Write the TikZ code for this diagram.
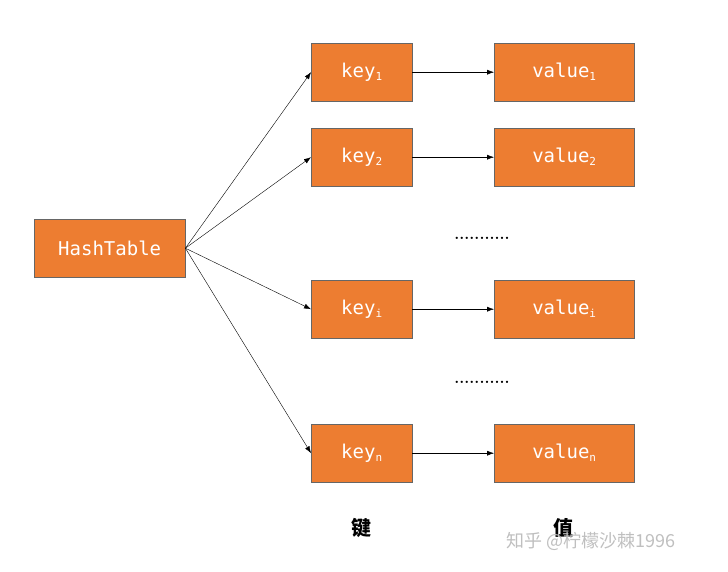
\documentclass[tikz,border=0pt]{standalone}
\usepackage{fontspec}
\setmonofont{DejaVu Sans Mono}
\newfontfamily\cjk{Noto Sans CJK SC}
\usetikzlibrary{arrows.meta}
\newcommand{\subx}[1]{\raisebox{-3pt}{\fontsize{11}{12}\selectfont #1}}
\begin{document}
\begin{tikzpicture}[x=1pt,y=-1pt,
  box/.style={draw=black!60,fill={rgb,255:red,237;green,125;blue,49},text=white,font=\ttfamily\fontsize{19}{22}\selectfont,inner sep=0pt,anchor=north west},
  arr/.style={-{Latex[length=7pt,width=5pt]},black}]
\useasboundingbox (0,0) rectangle (728,571);
\node[box,minimum width=151pt,minimum height=58pt] (h) at (34,219) {HashTable};
\foreach \n/\y/\s in {1/43/1,2/128/2,i/280/i,n/424/n}{
  \node[box,minimum width=101pt,minimum height=58pt] (k\n) at (311,\y) {key\subx{\s}};
  \node[box,minimum width=140pt,minimum height=58pt] (v\n) at (494,\y) {value\subx{\s}};
  \draw[arr] (h.east) -- (k\n.west);
  \draw[arr] (k\n.east) -- (v\n.west);
}
\node (d1) at (482,238) {\fontsize{16}{16}\selectfont\bfseries ...........};
\node (d2) at (482,382) {\fontsize{16}{16}\selectfont\bfseries ...........};
\node (l1) at (361,528) {\cjk\fontsize{20}{22}\selectfont\bfseries 键};
\node (l2) at (563,528) {\cjk\fontsize{20}{22}\selectfont\bfseries 值};
\node[text=black!25,anchor=west] (w) at (503,541) {\cjk\fontsize{18}{20}\selectfont 知乎 @柠檬沙棘1996};
\end{tikzpicture}
\end{document}
